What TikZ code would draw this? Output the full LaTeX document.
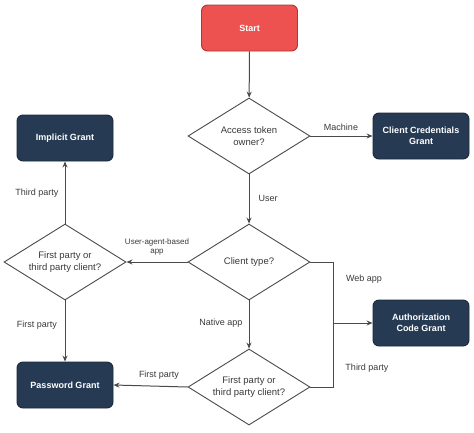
\documentclass[tikz,border=0pt]{standalone}
\usepackage{fontspec}
\setmainfont{Liberation Sans}
\usetikzlibrary{shapes.geometric,arrows.meta}
\definecolor{startred}{HTML}{EE5250}
\definecolor{navy}{HTML}{263B53}
\definecolor{linegray}{HTML}{4A4A4A}
\definecolor{labelgray}{HTML}{3A3A3A}
\begin{document}
\begin{tikzpicture}[x=1pt,y=-1pt,
  termbox/.style={draw=#1!70!black, line width=0.9pt, rounded corners=6pt, minimum width=96pt, minimum height=46pt, inner sep=2pt, align=center, text=white, font=\fontsize{9}{11}\selectfont\bfseries},
  decision/.style={diamond, draw=linegray, line width=0.9pt, fill=white, minimum width=122pt, minimum height=76pt, aspect=1.6, inner sep=0pt, align=center, text=labelgray, font=\fontsize{9.5}{11.5}\selectfont},
  conn/.style={draw=linegray, line width=1pt},
  arr/.style={conn, -{Stealth[length=6pt,width=5pt]}},
  lbl/.style={text=labelgray, font=\fontsize{9}{10}\selectfont, inner sep=0pt, align=center},
]
\useasboundingbox (0,0) rectangle (474,432);
\fill[white] (0,0) rectangle (474,432);

\node[termbox=startred, fill=startred] (start) at (249.5,28) {Start};
\node[decision] (d1) at (249,136) {Access token\\owner?};
\node[termbox=navy, fill=navy] (ccg) at (421,136) {Client Credentials\\Grant};
\node[termbox=navy, fill=navy] (imp) at (65,138) {Implicit Grant};
\node[decision] (d2) at (249,262) {Client type?};
\node[decision] (dl) at (65,262) {First party or\\third party client?};
\node[decision] (d3) at (249,387) {First party or\\third party client?};
\node[termbox=navy, fill=navy] (pwd) at (65,385) {Password Grant};
\node[termbox=navy, fill=navy] (acg) at (421,323) {Authorization\\Code Grant};

\coordinate (r1) at (333,262);
\coordinate (r2) at (333,387);
\coordinate (rm) at (333,323);

\draw[arr] (start) -- (d1);
\draw[arr] (d1.east) -- (ccg.west);
\draw[arr] (d1.south) -- (d2.north);
\draw[arr] (d2.west) -- (dl.east);
\draw[arr] (dl.north) -- (imp.south);
\draw[arr] (dl.south) -- (pwd.north);
\draw[arr] (d2.south) -- (d3.north);
\draw[arr] (d3.west) -- (pwd.east);
\draw[conn] (d2.east) -- (r1) -- (r2) -- (d3.east);
\draw[arr] (rm) -- (acg.west);

\node[lbl] (lmach) at (341,127) {Machine};
\node[lbl] (luser) at (268,198) {User};
\node[lbl] (lthird) at (37,193) {Third party};
\node[lbl, font=\fontsize{8}{9}\selectfont] (luab) at (157,247) {User-agent-based\\app};
\node[lbl] (lfirst1) at (37,325) {First party};
\node[lbl] (lnative) at (221,323) {Native app};
\node[lbl] (lfirst2) at (159,375) {First party};
\node[lbl] (lweb) at (364,279) {Web app};
\node[lbl] (lthird2) at (367,368) {Third party};
\end{tikzpicture}
\end{document}
